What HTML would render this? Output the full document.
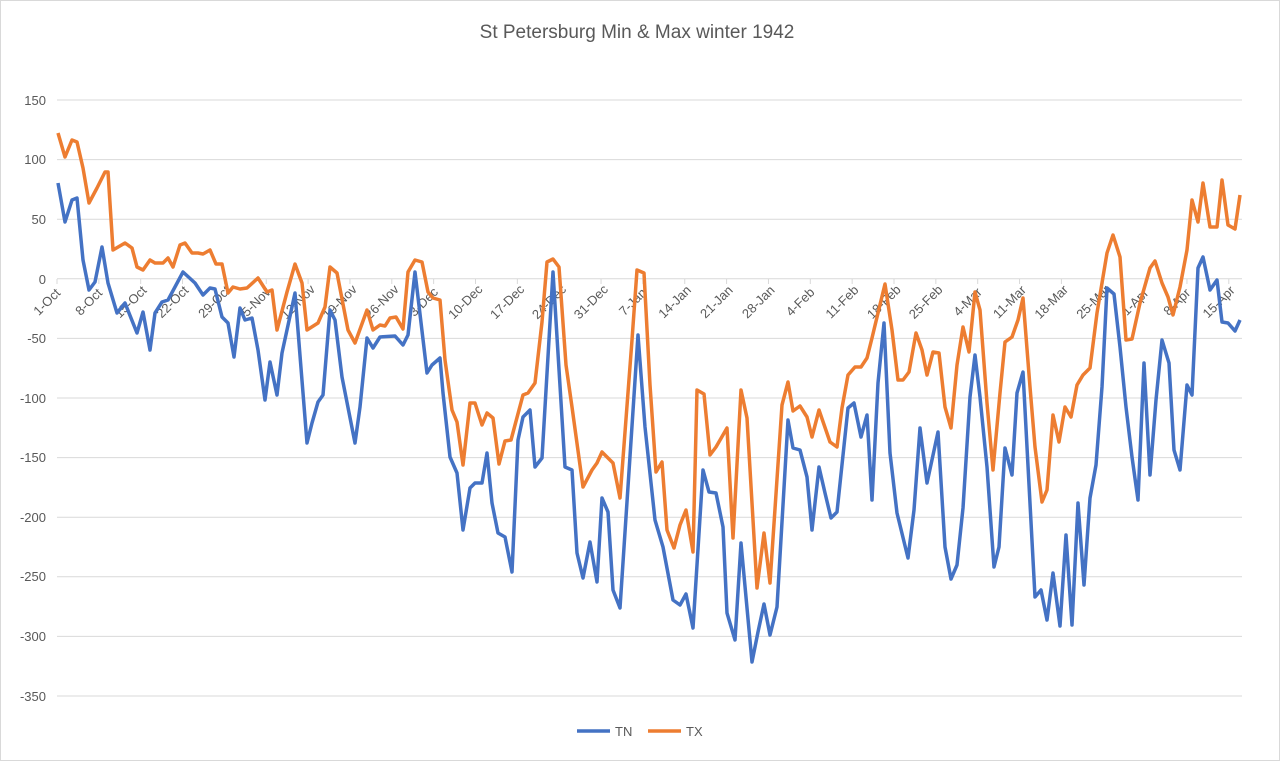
<!DOCTYPE html>
<html><head><meta charset="utf-8"><style>
html,body{margin:0;padding:0;background:#fff;}
svg{display:block;font-family:"Liberation Sans",sans-serif;}
</style></head><body>
<svg width="1280" height="761" viewBox="0 0 1280 761" xmlns="http://www.w3.org/2000/svg">
<rect x="0.5" y="0.5" width="1279" height="760" fill="#fff" stroke="#d9d9d9"/>
<text x="637" y="38" text-anchor="middle" font-size="19" fill="#595959">St Petersburg Min &amp; Max winter 1942</text>
<g stroke="#d9d9d9" stroke-width="1">
<line x1="57" x2="1242" y1="100" y2="100"/><line x1="57" x2="1242" y1="159.6" y2="159.6"/>
<line x1="57" x2="1242" y1="219.2" y2="219.2"/><line x1="57" x2="1242" y1="338.4" y2="338.4"/>
<line x1="57" x2="1242" y1="398" y2="398"/><line x1="57" x2="1242" y1="457.6" y2="457.6"/>
<line x1="57" x2="1242" y1="517.2" y2="517.2"/><line x1="57" x2="1242" y1="576.8" y2="576.8"/>
<line x1="57" x2="1242" y1="636.4" y2="636.4"/><line x1="57" x2="1242" y1="696" y2="696"/>
<line x1="57" x2="1242" y1="278.8" y2="278.8"/>
</g>
<g stroke="#d9d9d9" stroke-width="1" id="ticks"></g>
<g font-size="13" fill="#595959" text-anchor="end">
<text x="46" y="105">150</text><text x="46" y="164">100</text><text x="46" y="224">50</text>
<text x="46" y="284">0</text><text x="46" y="343">-50</text><text x="46" y="403">-100</text>
<text x="46" y="462">-150</text><text x="46" y="522">-200</text><text x="46" y="581">-250</text>
<text x="46" y="641">-300</text><text x="46" y="701">-350</text>
</g>
<g font-size="13" fill="#595959" text-anchor="middle" id="xl"></g>
<polyline fill="none" stroke="#4472c4" stroke-width="3.5" stroke-linejoin="round" points="58,183 65,222 72,200 77,198 83,260 89,290 95,282 102,247 108,283 117,313 125,303 137,333 143,312 150,350 155,313 162,302 168,300 183,272 195,283 203,295 210,288 215,289 222,317 228,323 234,357 240,308 245,320 252,318 258,350 265,400 270,362 277,395 282,353 295,293 307,443 312,423 318,402 323,395 330,310 335,320 342,377 355,443 360,407 367,338 373,348 380,337 395,336 403,345 408,335 415,272 427,373 432,365 440,358 443,393 450,457 457,473 463,530 470,488 475,483 482,483 487,453 492,503 498,533 505,537 512,572 518,440 523,417 530,410 535,467 542,458 553,272 565,467 572,470 577,553 583,578 590,542 597,582 602,498 608,512 613,590 620,608 638,335 645,427 655,520 663,547 673,600 680,605 686,594 693,628 703,470 709,492 716,493 723,527 727,613 735,640 741,543 752,662 758,632 764,604 770,635 777,607 788,420 793,448 800,450 807,477 812,530 819,467 825,493 831,518 837,512 848,408 854,403 861,437 867,415 872,500 878,383 884,323 890,453 897,513 908,558 914,510 920,428 927,483 938,432 945,547 951,579 957,565 963,508 970,397 975,355 980,397 987,467 994,567 999,547 1005,448 1012,475 1017,393 1023,372 1035,597 1041,590 1047,620 1053,573 1060,626 1066,535 1072,625 1078,503 1084,585 1090,498 1096,465 1102,387 1107,288 1114,294 1120,347 1126,407 1132,457 1138,500 1144,363 1150,475 1156,400 1162,340 1169,363 1174,450 1180,470 1187,385 1192,395 1198,268 1203,257 1210,290 1217,280 1222,322 1228,323 1235,331 1240,320"/>
<polyline fill="none" stroke="#ed7d31" stroke-width="3.5" stroke-linejoin="round" points="58,133 65,157 72,140 77,142 83,168 89,203 97,188 105,172 108,172 113,250 125,243 132,248 137,267 143,270 150,260 155,263 163,263 168,258 173,267 180,245 185,243 192,253 198,253 203,254 210,250 216,264 222,264 228,293 233,287 240,289 247,288 258,278 267,292 272,290 277,330 287,292 295,264 302,283 307,330 318,323 325,307 330,267 337,273 348,330 355,343 367,310 373,330 380,325 385,326 390,318 396,317 403,329 408,272 415,260 422,262 428,292 433,298 440,300 445,360 452,410 457,422 463,465 470,403 475,403 482,425 487,413 493,418 499,464 505,441 511,440 523,395 528,393 535,383 542,322 547,262 553,259 559,267 566,365 572,407 583,487 592,470 597,463 602,452 613,463 620,498 632,340 637,270 644,273 650,385 656,472 662,462 667,530 674,548 680,525 686,510 693,552 697,390 704,394 710,455 716,447 727,428 733,538 741,390 747,418 757,588 764,533 770,583 782,405 788,382 793,411 800,406 807,417 812,437 819,410 830,442 837,447 842,408 848,375 855,367 861,367 867,358 872,338 878,313 885,284 892,330 898,380 903,380 909,372 916,333 922,350 927,375 933,352 939,353 945,407 951,428 957,365 963,327 969,352 975,292 980,310 987,403 993,470 1000,393 1005,342 1012,337 1018,320 1023,298 1030,387 1035,447 1042,502 1047,490 1053,415 1059,442 1065,407 1071,417 1077,385 1083,375 1090,368 1097,313 1107,253 1113,235 1120,257 1126,340 1132,339 1140,303 1150,268 1155,261 1162,283 1168,297 1173,315 1180,287 1187,250 1192,200 1198,222 1203,183 1210,227 1217,227 1222,180 1228,225 1235,229 1240,195"/>
<line x1="577" x2="610" y1="731" y2="731" stroke="#4472c4" stroke-width="3.5"/>
<text x="615" y="736" font-size="13" fill="#595959">TN</text>
<line x1="648" x2="681" y1="731" y2="731" stroke="#ed7d31" stroke-width="3.5"/>
<text x="686" y="736" font-size="13" fill="#595959">TX</text>
</svg>
<script>
var labels=["1-Oct","8-Oct","15-Oct","22-Oct","29-Oct","5-Nov","12-Nov","19-Nov","26-Nov","3-Dec","10-Dec","17-Dec","24-Dec","31-Dec","7-Jan","14-Jan","21-Jan","28-Jan","4-Feb","11-Feb","18-Feb","25-Feb","4-Mar","11-Mar","18-Mar","25-Mar","1-Apr","8-Apr","15-Apr"];
var ns="http://www.w3.org/2000/svg",xl=document.getElementById("xl"),tk=document.getElementById("ticks");
for(var i=0;i<labels.length;i++){var x=57+i*41.85;
var l=document.createElementNS(ns,"line");l.setAttribute("x1",x);l.setAttribute("x2",x);l.setAttribute("y1",279);l.setAttribute("y2",284);tk.appendChild(l);
var t=document.createElementNS(ns,"text");var cx=x-7,cy=305;t.setAttribute("x",cx);t.setAttribute("y",cy);t.setAttribute("transform","rotate(-45 "+cx+" "+cy+")");t.textContent=labels[i];xl.appendChild(t);}
</script>
</body></html>
